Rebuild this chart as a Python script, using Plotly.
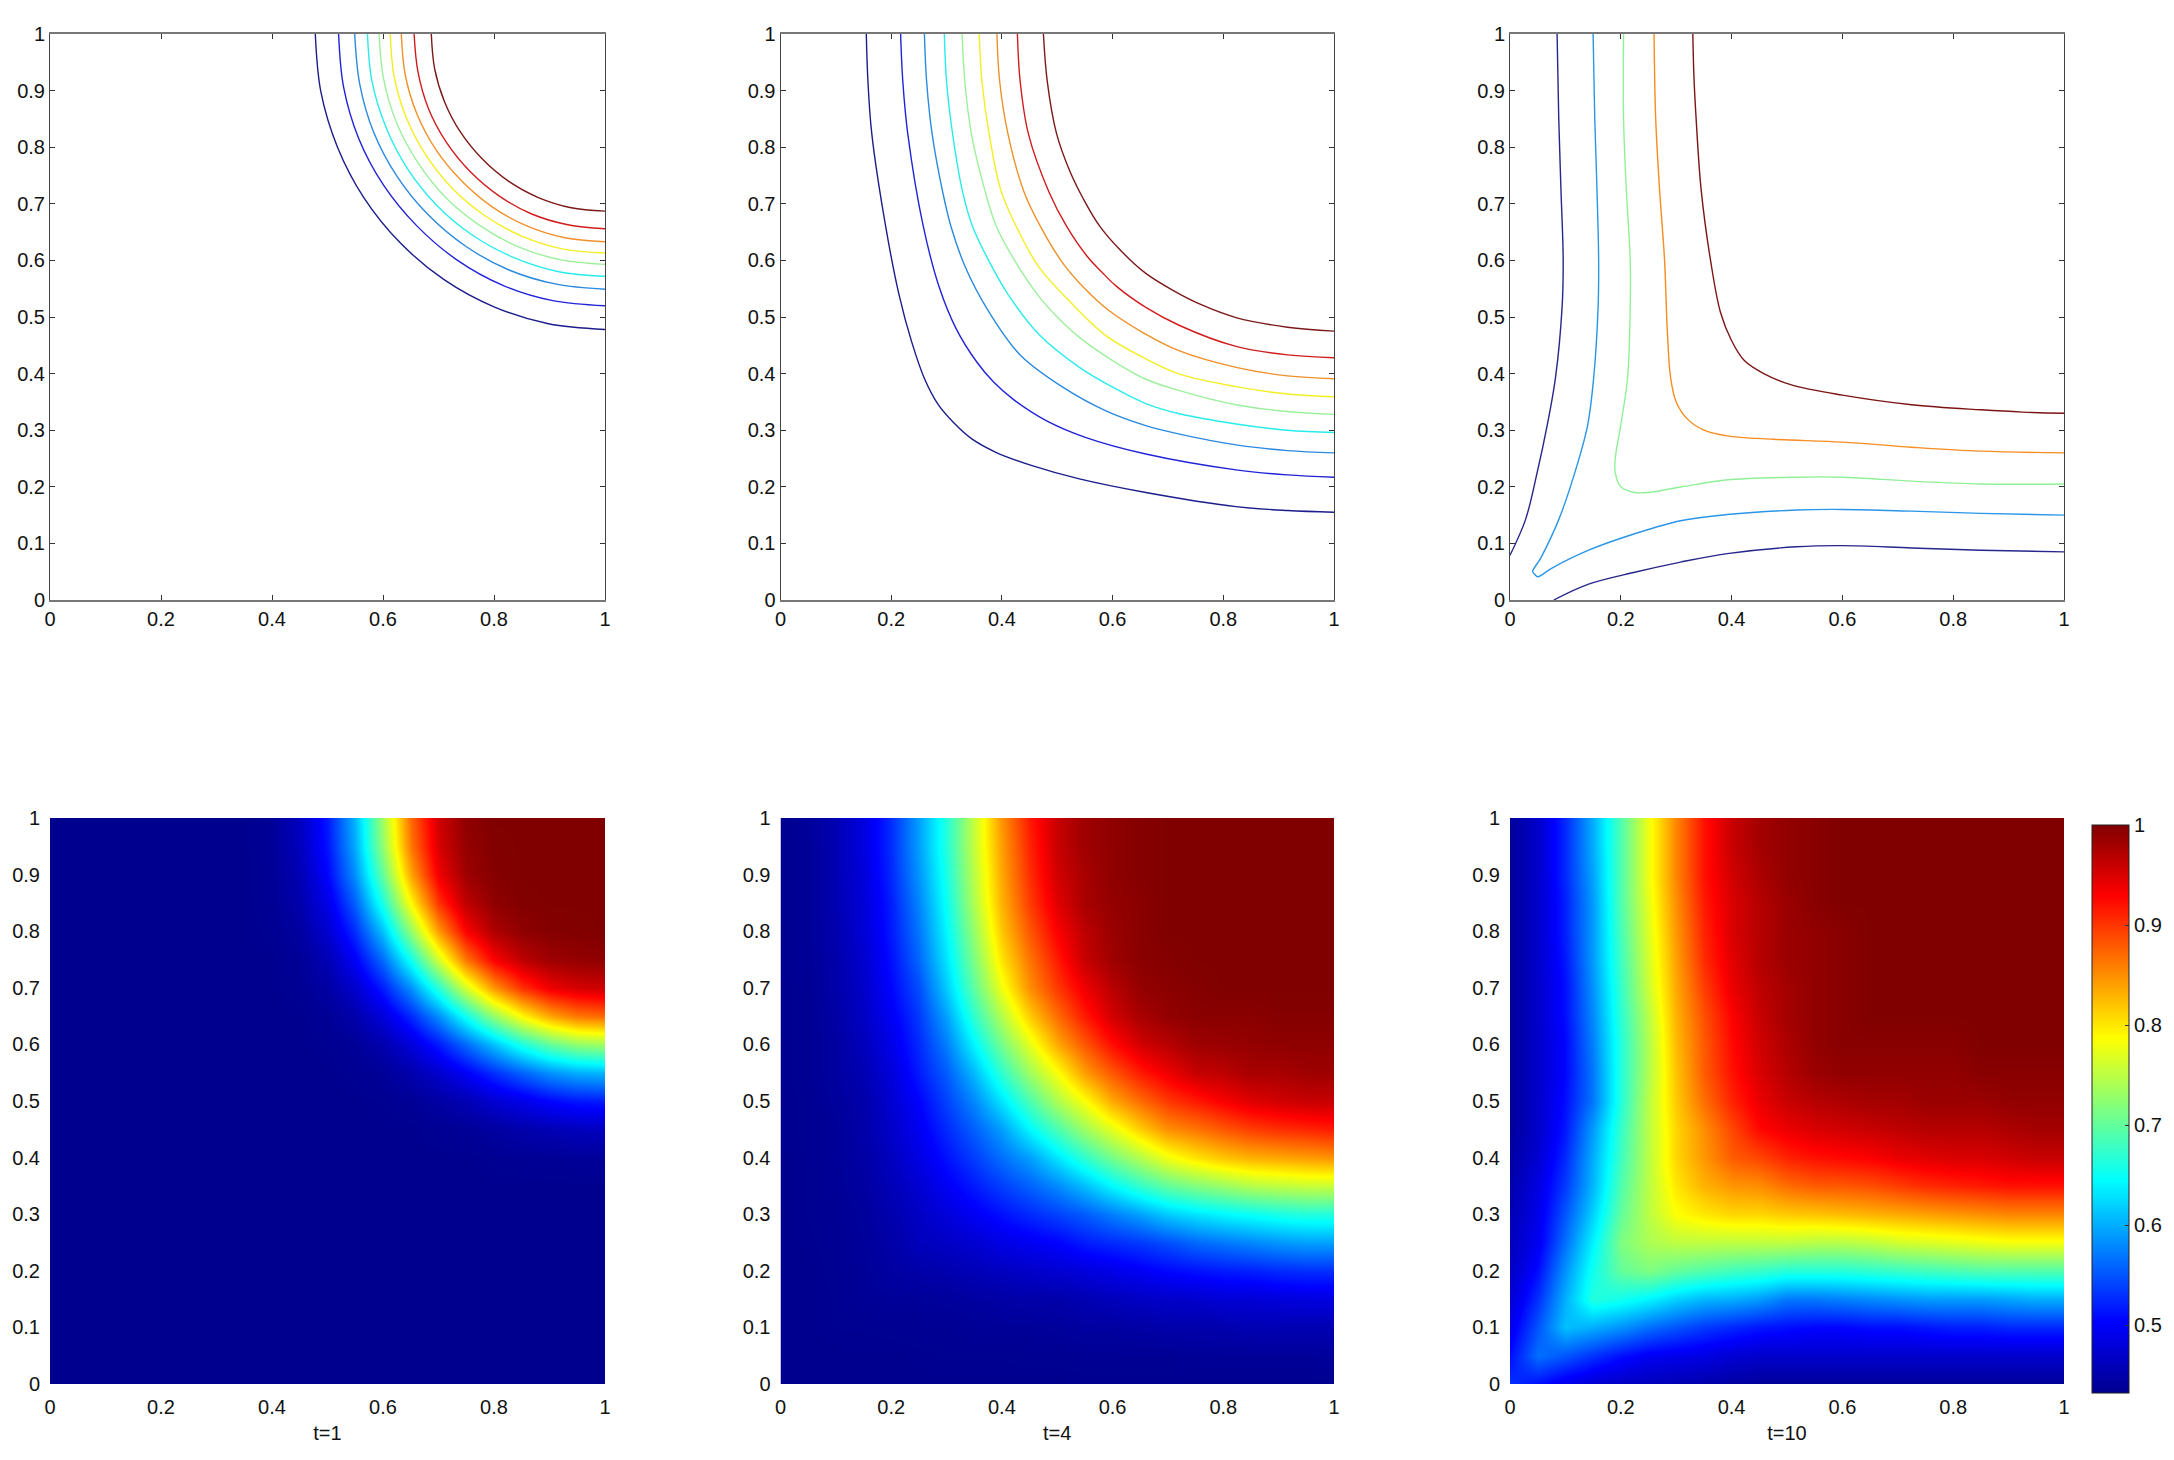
import plotly.graph_objects as go

# page body keeps an 8px margin in the browser
PAGE_MARGIN = 8
FIG_W = 2174 - 2 * PAGE_MARGIN
FIG_H = 1460 - 2 * PAGE_MARGIN

# axis ticks
X_TICKS = [0, 0.2, 0.4, 0.6, 0.8, 1]
X_LABELS = ["0", "0.2", "0.4", "0.6", "0.8", "1"]
Y_TICKS = [0, 0.1, 0.2, 0.3, 0.4, 0.5, 0.6, 0.7, 0.8, 0.9, 1]
Y_LABELS = ["0", "0.1", "0.2", "0.3", "0.4", "0.5", "0.6", "0.7", "0.8", "0.9", "1"]
CBAR_TICKS = [0.5, 0.6, 0.7, 0.8, 0.9, 1]
CBAR_LABELS = ["0.5", "0.6", "0.7", "0.8", "0.9", "1"]
TITLES = ["t=1", "t=4", "t=10"]

# matlab jet
JET = [
    [0, "#00008f"],
    [0.125, "#0000ff"],
    [0.375, "#00ffff"],
    [0.625, "#ffff00"],
    [0.875, "#ff0000"],
    [1, "#800000"],
]
NINE_COLORS = ["#1c1c8c", "#2222d8", "#2a8ae0", "#28ecec", "#9cf09c", "#f4ee20", "#f09028", "#d01c1c", "#7c1818"]
FIVE_COLORS = ["#26268c", "#2a96e8", "#90f098", "#f88c20", "#7c1414"]

# contour lines, read from x=1 in to the diagonal (the field is symmetric)
T1_X = [
    [1, 0.898, 0.8, 0.71, 0.631],
    [1, 0.906, 0.816, 0.733, 0.661],
    [1, 0.912, 0.827, 0.749, 0.681],
    [1, 0.917, 0.836, 0.762, 0.697],
    [1, 0.921, 0.844, 0.774, 0.712],
    [1, 0.925, 0.852, 0.785, 0.726],
    [1, 0.928, 0.859, 0.796, 0.741],
    [1, 0.933, 0.868, 0.809, 0.757],
    [1, 0.939, 0.88, 0.826, 0.779],
]
T1_Y = [
    [0.478, 0.488, 0.518, 0.566, 0.631],
    [0.52, 0.529, 0.556, 0.601, 0.661],
    [0.549, 0.558, 0.583, 0.625, 0.681],
    [0.572, 0.58, 0.605, 0.644, 0.697],
    [0.593, 0.601, 0.624, 0.662, 0.712],
    [0.613, 0.62, 0.642, 0.678, 0.726],
    [0.633, 0.64, 0.661, 0.695, 0.741],
    [0.656, 0.663, 0.682, 0.714, 0.757],
    [0.687, 0.693, 0.711, 0.74, 0.779],
]
T4_X = [
    [1, 0.916, 0.823, 0.66, 0.54, 0.456, 0.389, 0.345, 0.313],
    [1, 0.916, 0.823, 0.66, 0.552, 0.48, 0.42, 0.385],
    [1, 0.916, 0.823, 0.721, 0.66, 0.588, 0.51, 0.433],
    [1, 0.916, 0.823, 0.721, 0.66, 0.6, 0.54, 0.468],
    [1, 0.916, 0.823, 0.721, 0.66, 0.6, 0.54, 0.5],
    [1, 0.916, 0.823, 0.721, 0.654, 0.588, 0.525],
    [1, 0.916, 0.823, 0.721, 0.654, 0.594, 0.55],
    [1, 0.916, 0.823, 0.721, 0.66, 0.606, 0.58],
    [1, 0.916, 0.823, 0.757, 0.709, 0.66, 0.616],
]
T4_Y = [
    [0.155, 0.158, 0.165, 0.19, 0.214, 0.237, 0.261, 0.285, 0.313],
    [0.217, 0.221, 0.23, 0.258, 0.287, 0.317, 0.355, 0.385],
    [0.26, 0.264, 0.274, 0.293, 0.308, 0.334, 0.376, 0.433],
    [0.296, 0.3, 0.311, 0.329, 0.347, 0.376, 0.411, 0.468],
    [0.328, 0.333, 0.345, 0.37, 0.39, 0.423, 0.464, 0.5],
    [0.359, 0.364, 0.377, 0.399, 0.429, 0.467, 0.525],
    [0.391, 0.396, 0.411, 0.44, 0.473, 0.511, 0.55],
    [0.428, 0.433, 0.448, 0.485, 0.517, 0.555, 0.58],
    [0.475, 0.482, 0.499, 0.523, 0.547, 0.577, 0.616],
]
T10_X = [
    [1, 0.85, 0.725, 0.6, 0.517, 0.392, 0.308, 0.225, 0.142, 0.079],
    [1, 0.85, 0.725, 0.6, 0.517, 0.392, 0.308, 0.225, 0.142, 0.075, 0.05, 0.045],
    [1, 0.85, 0.725, 0.6, 0.517, 0.39, 0.31, 0.25, 0.225, 0.2],
    [1, 0.85, 0.725, 0.6, 0.475, 0.392, 0.35, 0.32],
    [1, 0.925, 0.85, 0.725, 0.6, 0.508, 0.458, 0.423],
]
T10_Y = [
    [0.085, 0.088, 0.092, 0.096, 0.094, 0.082, 0.067, 0.049, 0.028, 0],
    [0.15, 0.153, 0.157, 0.16, 0.159, 0.151, 0.14, 0.117, 0.088, 0.056, 0.041, 0.045],
    [0.205, 0.205, 0.21, 0.217, 0.217, 0.212, 0.2, 0.19, 0.19, 0.2],
    [0.26, 0.263, 0.27, 0.279, 0.284, 0.29, 0.3, 0.32],
    [0.33, 0.332, 0.336, 0.345, 0.362, 0.38, 0.4, 0.423],
]
T10_OPEN = [True, False, False, False, False]

# 21 grid positions on both axes
GRID = [0, 0.05, 0.1, 0.15, 0.2, 0.25, 0.3, 0.35, 0.4, 0.45, 0.5, 0.55, 0.6, 0.65, 0.7, 0.75, 0.8, 0.85, 0.9, 0.95, 1]

FIELD_T1 = [
    [0] * 1, [0] * 2, [0] * 3, [0] * 4, [0] * 5, [0] * 6, [0] * 7, [0] * 8, [0] * 9, [0] * 10,
    [0] * 11,
    [0] * 9 + [0, 0, 0.003],
    [0] * 8 + [0, 0, 0.002, 0.01, 0.035],
    [0] * 8 + [0, 0, 0.008, 0.033, 0.085, 0.165],
    [0] * 8 + [0, 0.005, 0.023, 0.07, 0.152, 0.266, 0.417],
    [0] * 8 + [0, 0.009, 0.042, 0.117, 0.23, 0.39, 0.583, 0.759],
    [0] * 8 + [0.003, 0.02, 0.074, 0.17, 0.317, 0.52, 0.728, 0.877, 0.955],
    [0] * 8 + [0.006, 0.033, 0.1, 0.219, 0.405, 0.63, 0.827, 0.939, 0.985, 0.998],
    [0] * 8 + [0.008, 0.042, 0.129, 0.266, 0.474, 0.713, 0.89, 0.97, 0.995, 1, 1],
    [0] * 8 + [0.01, 0.052, 0.146, 0.293, 0.52, 0.759, 0.916, 0.98, 0.998, 1, 1, 1],
    [0] * 8 + [0.01, 0.056, 0.152, 0.304, 0.535, 0.774, 0.924, 0.985, 1, 1, 1, 1, 1],
]
FIELD_T4 = [
    [0],
    [0, 0],
    [0, 0, 0.002],
    [0, 0, 0.002, 0.008],
    [0, 0, 0.003, 0.01, 0.022],
    [0, 0.001, 0.004, 0.012, 0.028, 0.05],
    [0, 0.002, 0.005, 0.015, 0.035, 0.06, 0.085],
    [0, 0.002, 0.008, 0.02, 0.045, 0.075, 0.115, 0.15],
    [0, 0.002, 0.01, 0.025, 0.055, 0.095, 0.14, 0.185, 0.233],
    [0, 0.003, 0.01, 0.03, 0.065, 0.11, 0.165, 0.22, 0.28, 0.37],
    [0, 0.003, 0.015, 0.03, 0.075, 0.125, 0.19, 0.26, 0.35, 0.45, 0.545],
    [0, 0.005, 0.02, 0.04, 0.085, 0.15, 0.215, 0.31, 0.42, 0.53, 0.62, 0.72],
    [0, 0.005, 0.02, 0.05, 0.1, 0.165, 0.25, 0.37, 0.49, 0.6, 0.71, 0.79, 0.865],
    [0, 0.005, 0.025, 0.06, 0.115, 0.18, 0.285, 0.425, 0.55, 0.675, 0.77, 0.85, 0.92, 0.96],
    [0, 0.005, 0.03, 0.065, 0.13, 0.2, 0.325, 0.47, 0.61, 0.735, 0.82, 0.89, 0.945, 0.98, 0.99],
    [0, 0.01, 0.03, 0.07, 0.14, 0.225, 0.35, 0.5, 0.65, 0.76, 0.85, 0.93, 0.97, 0.99, 0.995, 1],
    [0, 0.01, 0.035, 0.08, 0.15, 0.24, 0.37, 0.525, 0.68, 0.79, 0.88, 0.94, 0.975, 0.99, 1, 1, 1],
    [0, 0.01, 0.04, 0.08, 0.155, 0.255, 0.385, 0.55, 0.7, 0.815, 0.905, 0.96, 0.98, 0.99, 1, 1, 1, 1],
    [0, 0.01, 0.04, 0.085, 0.165, 0.27, 0.4, 0.56, 0.71, 0.83, 0.92, 0.96, 0.985, 0.995, 1, 1, 1, 1, 1],
    [0, 0.01, 0.04, 0.09, 0.17, 0.28, 0.41, 0.57, 0.72, 0.84, 0.93, 0.97, 0.985, 0.995, 1, 1, 1, 1, 1, 1],
    [0, 0.015, 0.04, 0.09, 0.17, 0.28, 0.41, 0.57, 0.73, 0.85, 0.93, 0.97, 0.985, 0.995, 1, 1, 1, 1, 1, 1, 1],
]
FIELD_T10 = [
    [0.53],
    [0.51, 0.565],
    [0.49, 0.55, 0.61],
    [0.475, 0.53, 0.6, 0.665],
    [0.465, 0.51, 0.585, 0.655, 0.7],
    [0.46, 0.495, 0.565, 0.64, 0.715, 0.74],
    [0.455, 0.49, 0.55, 0.62, 0.7, 0.75, 0.785],
    [0.45, 0.485, 0.535, 0.605, 0.69, 0.75, 0.8, 0.83],
    [0.445, 0.475, 0.525, 0.6, 0.68, 0.75, 0.81, 0.845, 0.878],
    [0.44, 0.47, 0.515, 0.59, 0.675, 0.75, 0.81, 0.85, 0.89, 0.925],
    [0.44, 0.47, 0.51, 0.57, 0.665, 0.75, 0.817, 0.868, 0.91, 0.94, 0.96],
    [0.44, 0.47, 0.505, 0.57, 0.665, 0.745, 0.82, 0.878, 0.92, 0.95, 0.97, 0.985],
    [0.44, 0.47, 0.505, 0.575, 0.665, 0.745, 0.825, 0.88, 0.925, 0.955, 0.975, 0.99, 0.995],
    [0.44, 0.47, 0.51, 0.58, 0.67, 0.75, 0.83, 0.885, 0.93, 0.96, 0.98, 0.99, 0.995, 1],
    [0.44, 0.47, 0.51, 0.585, 0.675, 0.76, 0.835, 0.895, 0.94, 0.965, 0.98, 0.99, 0.995, 1, 1],
    [0.44, 0.47, 0.515, 0.59, 0.68, 0.765, 0.84, 0.905, 0.945, 0.97, 0.985, 0.99, 0.995, 1, 1, 1],
    [0.44, 0.47, 0.52, 0.59, 0.685, 0.77, 0.845, 0.91, 0.95, 0.97, 0.985, 0.99, 0.995, 1, 1, 1, 1],
    [0.44, 0.47, 0.52, 0.59, 0.69, 0.775, 0.85, 0.915, 0.95, 0.97, 0.985, 0.995, 1, 1, 1, 1, 1, 1],
    [0.44, 0.47, 0.525, 0.595, 0.69, 0.78, 0.855, 0.92, 0.955, 0.975, 0.99, 0.995, 1, 1, 1, 1, 1, 1, 1],
    [0.44, 0.47, 0.525, 0.6, 0.69, 0.78, 0.855, 0.92, 0.96, 0.98, 0.99, 0.995, 1, 1, 1, 1, 1, 1, 1, 1],
    [0.44, 0.47, 0.525, 0.6, 0.69, 0.78, 0.855, 0.92, 0.96, 0.98, 0.99, 0.995, 1, 1, 1, 1, 1, 1, 1, 1, 1],
]
ZMINS = [0, 0, 0.432]

# panel edges in reference pixels
PANEL_LEFT = [50, 780.5, 1510]
PANEL_RIGHT = [605, 1334, 2064]
ROW_TOP = [34, 818]
ROW_BOTTOM = [600, 1384]
TICK_FONT = dict(family="Liberation Sans", size=20, color="#111111")


def frac_x(px):
    return (px - PAGE_MARGIN) / FIG_W


def frac_y(px):
    # paper fraction measured up from the bottom
    return 1 - (px - PAGE_MARGIN) / FIG_H


def mirror_curve(xs, ys, is_open=False):
    # second half of a contour, reflected in the diagonal
    if is_open:
        return xs + [None] + ys[::-1], ys + [None] + xs[::-1]
    return xs + ys[-2::-1], ys + xs[-2::-1]


def full_grid(rows):
    n = len(rows)
    return [[rows[max(i, j)][min(i, j)] for i in range(n)] for j in range(n)]


def axis_style(col, row):
    common = dict(
        range=[0, 1],
        showgrid=False,
        zeroline=False,
        mirror="ticks",
        tickfont=TICK_FONT,
    )
    if row == 0:
        common.update(showline=True, ticks="inside", ticklen=5, tickcolor="#333333")
    else:
        # heatmap hides the ticks, they only hold the labels off the image
        common.update(showline=False, ticks="outside", ticklen=5, tickcolor="rgba(0,0,0,0)")
    xaxis = dict(
        common,
        domain=[frac_x(PANEL_LEFT[col]), frac_x(PANEL_RIGHT[col])],
        tickvals=X_TICKS,
        ticktext=X_LABELS,
        linecolor="#777777",
        linewidth=2,
    )
    yaxis = dict(
        common,
        domain=[frac_y(ROW_BOTTOM[row]), frac_y(ROW_TOP[row])],
        tickvals=Y_TICKS,
        ticktext=Y_LABELS,
        linecolor="#444444",
        linewidth=1,
    )
    return xaxis, yaxis


fig = go.Figure()
layout_axes = {}

# top row, contour lines
line_sets = [
    (T1_X, T1_Y, NINE_COLORS, [False] * 9),
    (T4_X, T4_Y, NINE_COLORS, [False] * 9),
    (T10_X, T10_Y, FIVE_COLORS, T10_OPEN),
]
for col, (xs, ys, colors, opened) in enumerate(line_sets):
    idx = col + 1
    xaxis, yaxis = axis_style(col, 0)
    layout_axes[f"xaxis{idx}"] = dict(xaxis, anchor=f"y{idx}")
    layout_axes[f"yaxis{idx}"] = dict(yaxis, anchor=f"x{idx}")
    for curve_x, curve_y, color, is_open in zip(xs, ys, colors, opened):
        line_x, line_y = mirror_curve(curve_x, curve_y, is_open)
        fig.add_trace(
            go.Scatter(
                x=line_x,
                y=line_y,
                mode="lines",
                line=dict(color=color, width=1.4, shape="spline", smoothing=1),
                xaxis=f"x{idx}",
                yaxis=f"y{idx}",
                showlegend=False,
            )
        )

# bottom row, the same field as colour
fields = [FIELD_T1, FIELD_T4, FIELD_T10]
for col, rows in enumerate(fields):
    idx = col + 4
    xaxis, yaxis = axis_style(col, 1)
    xaxis["title"] = dict(text=TITLES[col], font=TICK_FONT, standoff=8)
    layout_axes[f"xaxis{idx}"] = dict(xaxis, anchor=f"y{idx}")
    layout_axes[f"yaxis{idx}"] = dict(yaxis, anchor=f"x{idx}")
    trace = go.Heatmap(
        x=GRID,
        y=GRID,
        z=full_grid(rows),
        zmin=ZMINS[col],
        zmax=1,
        zsmooth="best",
        colorscale=JET,
        showscale=col == 2,
        xaxis=f"x{idx}",
        yaxis=f"y{idx}",
    )
    if col == 2:
        trace.colorbar = dict(
            x=frac_x(2092),
            xanchor="left",
            xpad=0,
            y=frac_y(1393),
            yanchor="bottom",
            ypad=0,
            lenmode="fraction",
            len=(1393 - 825) / FIG_H,
            thicknessmode="pixels",
            thickness=37,
            outlinecolor="#222222",
            outlinewidth=1,
            ticks="inside",
            ticklen=4,
            tickcolor="#333333",
            tickvals=CBAR_TICKS,
            ticktext=CBAR_LABELS,
            tickfont=TICK_FONT,
        )
    fig.add_trace(trace)

fig.update_layout(
    width=FIG_W,
    height=FIG_H,
    margin=dict(l=0, r=0, t=0, b=0, autoexpand=False),
    paper_bgcolor="white",
    plot_bgcolor="white",
    showlegend=False,
    **layout_axes,
)

fig.write_html("out.html")
